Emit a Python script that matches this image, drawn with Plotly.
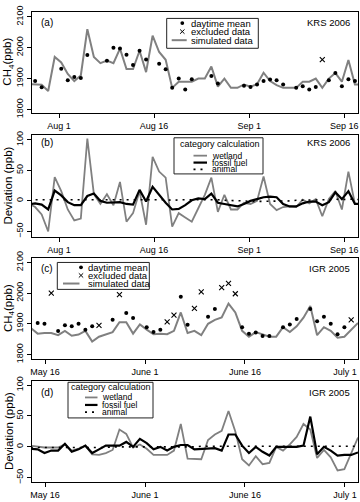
import plotly.graph_objects as go

FONT = "Liberation Sans, Arial, Helvetica, sans-serif"
W, H = 360, 502
ML, MR = 32, 2
PW = W - ML - MR


def px(x):
    return (x - ML) / PW


def py(y):
    return 1 - y / H


# ---------------- data ----------------
# KRS 2006 (panels a, b): daily points, index along the x axis
krs_tick_labels = ["Aug 1", "Aug 16", "Sep 1", "Sep 16"]
krs_tick_pos = [4.66, 19.23, 33.8, 48.37]

krs_sim = [1882, 1881, 1880, 1860, 1970, 1952, 1915, 1892, 1910, 2060,
           1970, 1950, 1958, 1950, 1997, 1931, 1931, 1990, 1921, 2039,
           1986, 1961, 1870, 1890, 1890, 1890, 1900, 1900, 1939, 1874,
           1900, 1870, 1870, 1881, 1874, 1882, 1919, 1892, 1879, 1870,
           1870, 1870, 1890, 1890, 1900, 1870, 1900, 1918, 1890, 1960,
           1881, 1881]
krs_obs = [None, 1892, 1872, None, None, 1932, 1895, 1905, 1902, 1976,
           None, None, 1958, 2000, 1997, 1977, 1944, 1990, 1962, None,
           1948, 1930, 1870, 1900, 1865, 1898, None, None, 1908, 1884,
           None, None, None, 1877, 1873, 1881, 1892, 1897, 1895, 1881,
           None, 1870, 1875, 1865, 1873, None, 1895, 1918, 1875, 1898,
           1892, None]
krs_excl = [None] * 45 + [1961] + [None] * 6

krs_wetland = [-4, -10, -22, -50, 39, 16, -14, -32, -29, 102,
               11, -5, 11, -7, 31, -34, -20, 16, -39, 72,
               48, 38, -42, -20, -27, -34, -12, 10, 38, -18,
               10, -14, -14, -3, -5, 0, 40, -5, -15, -10,
               -9, -10, 2, -4, 3, -25, 3, 16, -14, 48,
               -5, -5]
krs_fossil = [-6, -4, -6, -14, 17, 9, -2, -7, -7, 8,
              12, 0, -3, -3, -2, -5, -6, 18, -1, 23,
              9, -3, -14, -13, -7, 1, 4, 3, 12, -3,
              -5, -7, -9, -5, 0, 3, 6, 7, 6, -5,
              -9, -9, -4, -1, -1, -7, -2, 14, 3, 16,
              -5, -5]
krs_animal = [2, 2, 2, 2, 3, 2, 2, 2, 2, 3,
              2, 2, 2, 2, 2, 2, 2, 3, 2, 3,
              2, 2, 1, 2, 2, 2, 2, 2, 3, 2,
              1, 1, 0, 0, -1, -1, 0, 0, -1, -1,
              0, 1, 1, 1, 2, 2, 2, 3, 2, 3,
              2, 2]

# IGR 2005 (panels c, d)
igr_tick_labels = ["May 16", "June 1", "June 16", "July 1"]
igr_tick_pos = [2.08, 16.75, 31.42, 46.08]

igr_sim = [1886, 1868, 1870, 1870, 1863, 1877, 1861, 1865, 1877, 1842,
           1858, 1866, 1873, 1905, 1905, 1868, 1898, 1881, 1866, 1868,
           1866, 1877, 1937, 1870, 1877, 1863, 1900, 1913, 1921, 1966,
           1937, 1877, 1858, 1873, 1865, 1858, 1858, 1889, 1873, 1892,
           1920, 1958, 1863, 1889, 1877, 1855, 1858, 1881, 1903]
igr_obs = [None, 1903, 1900, None, 1877, 1895, 1892, 1900, 1881, 1892,
           None, None, 1913, None, 1935, 1919, None, 1889, 1873, 1881,
           None, None, 1988, 1897, None, None, 1923, 1948, None, None,
           None, 1889, 1868, 1872, 1860, 1860, None, 1889, 1898, 1916,
           None, 1948, 1908, 1923, 1900, 1866, 1889, None, None]
igr_excl = [None, None, None, 2000, None, None, None, None, None, None,
            1895, None, None, 1995, None, None, None, None, None, None,
            1906, 1928, None, None, 1950, 2004, None, None, 2018, 2032,
            1998, None, None, None, None, None, None, None, None, None,
            None, None, None, None, None, None, None, 1913, None]

igr_wetland = [2, 0, -1, -1, -1, 4, -6, -3, 2, -12,
               -13, -10, -5, 28, 21, -1, 4, -3, -13, -13,
               -13, -6, 37, -19, -19, -20, 11, 20, 26, 58,
               25, -20, -30, -15, -28, -26, 0, -6, 4, 16,
               37, 28, -18, -5, -17, -38, -36, -9, 15]
igr_fossil = [-3, -4, -10, -6, -6, 5, -8, -4, 2, -10,
              -4, 2, 2, 2, 8, 0, 13, 6, -4, 0,
              -6, 0, 3, 3, -4, -3, -3, -2, -6, 20,
              20, 2, -10, 0, -8, -14, 0, 0, -1, 0,
              2, 49, -12, 0, -6, -14, -13, -13, -9]
igr_animal = [-1, -1, -1, -2, -1, -1, -1, -1, -1, -1,
              -1, -1, 0, 0, 0, -1, 0, 0, 0, 0,
              0, 0, 0, 0, 0, 1, 1, 1, 1, 1,
              1, 1, 1, 1, 1, 1, 1, 1, 1, 1,
              1, 1, 1, 1, 1, 1, 1, 1, 1]

krs_x = list(range(len(krs_sim)))
igr_x = list(range(len(igr_sim)))

GRAY = "#808080"

fig = go.Figure()


def add_obs_panel(xs, sim, obs, excl, xa, ya):
    fig.add_trace(go.Scatter(x=xs, y=sim, mode="lines", xaxis=xa, yaxis=ya,
                             line=dict(color=GRAY, width=2)))
    fig.add_trace(go.Scatter(x=xs, y=obs, mode="markers", xaxis=xa, yaxis=ya,
                             marker=dict(symbol="circle", size=4, color="black")))
    fig.add_trace(go.Scatter(x=xs, y=excl, mode="markers", xaxis=xa, yaxis=ya,
                             marker=dict(symbol="x-thin", size=5, color="black",
                                         line=dict(width=1.1, color="black"))))


def add_dev_panel(xs, wet, fos, ani, xa, ya):
    fig.add_trace(go.Scatter(x=xs, y=wet, mode="lines", xaxis=xa, yaxis=ya,
                             line=dict(color=GRAY, width=1.8)))
    fig.add_trace(go.Scatter(x=xs, y=fos, mode="lines", xaxis=xa, yaxis=ya,
                             line=dict(color="black", width=2.2)))
    fig.add_trace(go.Scatter(x=xs, y=ani, mode="lines", xaxis=xa, yaxis=ya,
                             line=dict(color="black", width=1.6, dash="2px,5px")))


add_obs_panel(krs_x, krs_sim, krs_obs, krs_excl, "x", "y")
add_dev_panel(krs_x, krs_wetland, krs_fossil, krs_animal, "x2", "y2")
add_obs_panel(igr_x, igr_sim, igr_obs, igr_excl, "x3", "y3")
add_dev_panel(igr_x, igr_wetland, igr_fossil, igr_animal, "x4", "y4")


def xax(anchor, rng, pos, labels):
    return dict(domain=[0, 1], anchor=anchor, range=rng, tickmode="array",
                tickvals=pos, ticktext=labels, ticks="outside", ticklen=4,
                tickwidth=1, tickcolor="black", showline=True, linecolor="black",
                linewidth=1, mirror=True, showgrid=False, zeroline=False,
                tickfont=dict(size=9, color="black", family=FONT))


def yax(anchor, top, bottom, rng, vals):
    return dict(domain=[py(bottom), py(top)], anchor=anchor, range=rng,
                tickmode="array", tickvals=vals, ticks="outside", ticklen=4,
                tickwidth=1, tickcolor="black", tickangle=-90, showline=True,
                linecolor="black", linewidth=1, mirror=True, showgrid=False,
                zeroline=False, tickfont=dict(size=9, color="black", family=FONT))


ch4_ticks = [1800, 1900, 2000, 2100]
dev_ticks = [-50, 0, 50, 100]

shapes = []
annotations = []


def text(x, y, s, size=9.5, anchor="left"):
    annotations.append(dict(xref="paper", yref="paper", x=px(x), y=py(y), text=s,
                            showarrow=False, xanchor=anchor, yanchor="middle",
                            font=dict(size=size, color="black", family=FONT)))


def box(x0, y0, x1, y1):
    shapes.append(dict(type="rect", xref="paper", yref="paper", x0=px(x0), x1=px(x1),
                       y0=py(y1), y1=py(y0), line=dict(color="#222", width=1),
                       fillcolor="white", layer="above"))


def hline(x0, x1, y, color, width, dash="solid"):
    shapes.append(dict(type="line", xref="paper", yref="paper", x0=px(x0), x1=px(x1),
                       y0=py(y), y1=py(y), line=dict(color=color, width=width, dash=dash),
                       layer="above"))


def dot(x, y, r=1.9):
    shapes.append(dict(type="circle", xref="paper", yref="paper", x0=px(x - r), x1=px(x + r),
                       y0=py(y + r), y1=py(y - r), fillcolor="black",
                       line=dict(color="black", width=0), layer="above"))


def cross(x, y, r=2.2):
    for s in (1, -1):
        shapes.append(dict(type="line", xref="paper", yref="paper", x0=px(x - r), x1=px(x + r),
                           y0=py(y - s * r), y1=py(y + s * r),
                           line=dict(color="black", width=1), layer="above"))


def obs_legend(bx0, by0, bx1, by1, ys, lx0, lx1, sx, tx):
    box(bx0, by0, bx1, by1)
    dot(sx, ys[0])
    cross(sx, ys[1])
    hline(lx0, lx1, ys[2], GRAY, 2)
    text(tx, ys[0], "daytime mean")
    text(tx, ys[1], "excluded data")
    text(tx, ys[2], "simulated data")


def dev_legend(bx0, by0, bx1, by1, tcx, ty, ys, lx0, lx1, tx):
    box(bx0, by0, bx1, by1)
    text(tcx, ty, "category calculation", size=9, anchor="center")
    hline(lx0, lx1, ys[0], GRAY, 1.8)
    hline(lx0, lx1, ys[1], "black", 2.2)
    hline(lx0, lx1, ys[2], "black", 1.6, dash="2px,5px")
    text(tx, ys[0], "wetland", size=8.5)
    text(tx, ys[1], "fossil fuel", size=8.5)
    text(tx, ys[2], "animal", size=8.5)


# panel (a)
obs_legend(166.7, 11.7, 258.3, 42.3, [16.5, 25.2, 34], 171.7, 186.7, 182.3, 189)
text(39, 16, "(a)", size=10)
text(352, 16, "KRS 2006", size=9.5, anchor="right")
# panel (b)
dev_legend(174, 134, 263, 171, 219.5, 140.8, [152.3, 159.4, 166.4], 193.5, 207, 210.5)
text(39, 138.5, "(b)", size=10)
text(352, 138.5, "KRS 2006", size=9.5, anchor="right")
# panel (c)
obs_legend(57.3, 261.7, 149.3, 289.3, [266.7, 275, 283.3], 63, 79.5, 81, 86)
text(39, 268.3, "(c)", size=10)
text(352, 268.3, "IGR 2005", size=9.5, anchor="right")
# panel (d)
dev_legend(68, 384.5, 153, 421, 110.5, 389.5, [400, 407.7, 415], 85, 97.5, 100)
text(39, 394.5, "(d)", size=10)
text(352, 394.5, "IGR 2005", size=9.5, anchor="right")

# y-axis titles
for yc, t in [(56.5, "CH<sub>4</sub>(ppb)"), (183.5, "Deviation (ppb)"),
              (309, "CH<sub>4</sub>(ppb)"), (435, "Deviation (ppb)")]:
    annotations.append(dict(xref="paper", yref="paper", x=px(8.5), y=py(yc), text=t,
                            showarrow=False, textangle=-90, xanchor="center",
                            yanchor="middle",
                            font=dict(size=11.5, color="black", family=FONT)))

fig.update_layout(
    width=W, height=H,
    margin=dict(l=ML, r=MR, t=0, b=0, pad=0),
    paper_bgcolor="white", plot_bgcolor="white",
    showlegend=False,
    font=dict(family=FONT, color="black"),
    xaxis=xax("y", [0.52, 50.47], krs_tick_pos, krs_tick_labels),
    yaxis=yax("x", 5, 108.5, [1789, 2115.8], ch4_ticks),
    xaxis2=xax("y2", [0.52, 50.47], krs_tick_pos, krs_tick_labels),
    yaxis2=yax("x2", 131, 235.5, [-58.8, 108], dev_ticks),
    xaxis3=xax("y3", [0.17, 48.0], igr_tick_pos, igr_tick_labels),
    yaxis3=yax("x3", 257, 360.5, [1785.7, 2115], ch4_ticks),
    xaxis4=xax("y4", [0.17, 48.0], igr_tick_pos, igr_tick_labels),
    yaxis4=yax("x4", 383.5, 486.5, [-56.6, 106], dev_ticks),
    shapes=shapes,
    annotations=annotations,
)

fig.write_html("out.html",
               config={"displayModeBar": False},
               post_script="document.body.style.margin='0';document.body.style.padding='0';document.body.style.overflow='hidden';")
